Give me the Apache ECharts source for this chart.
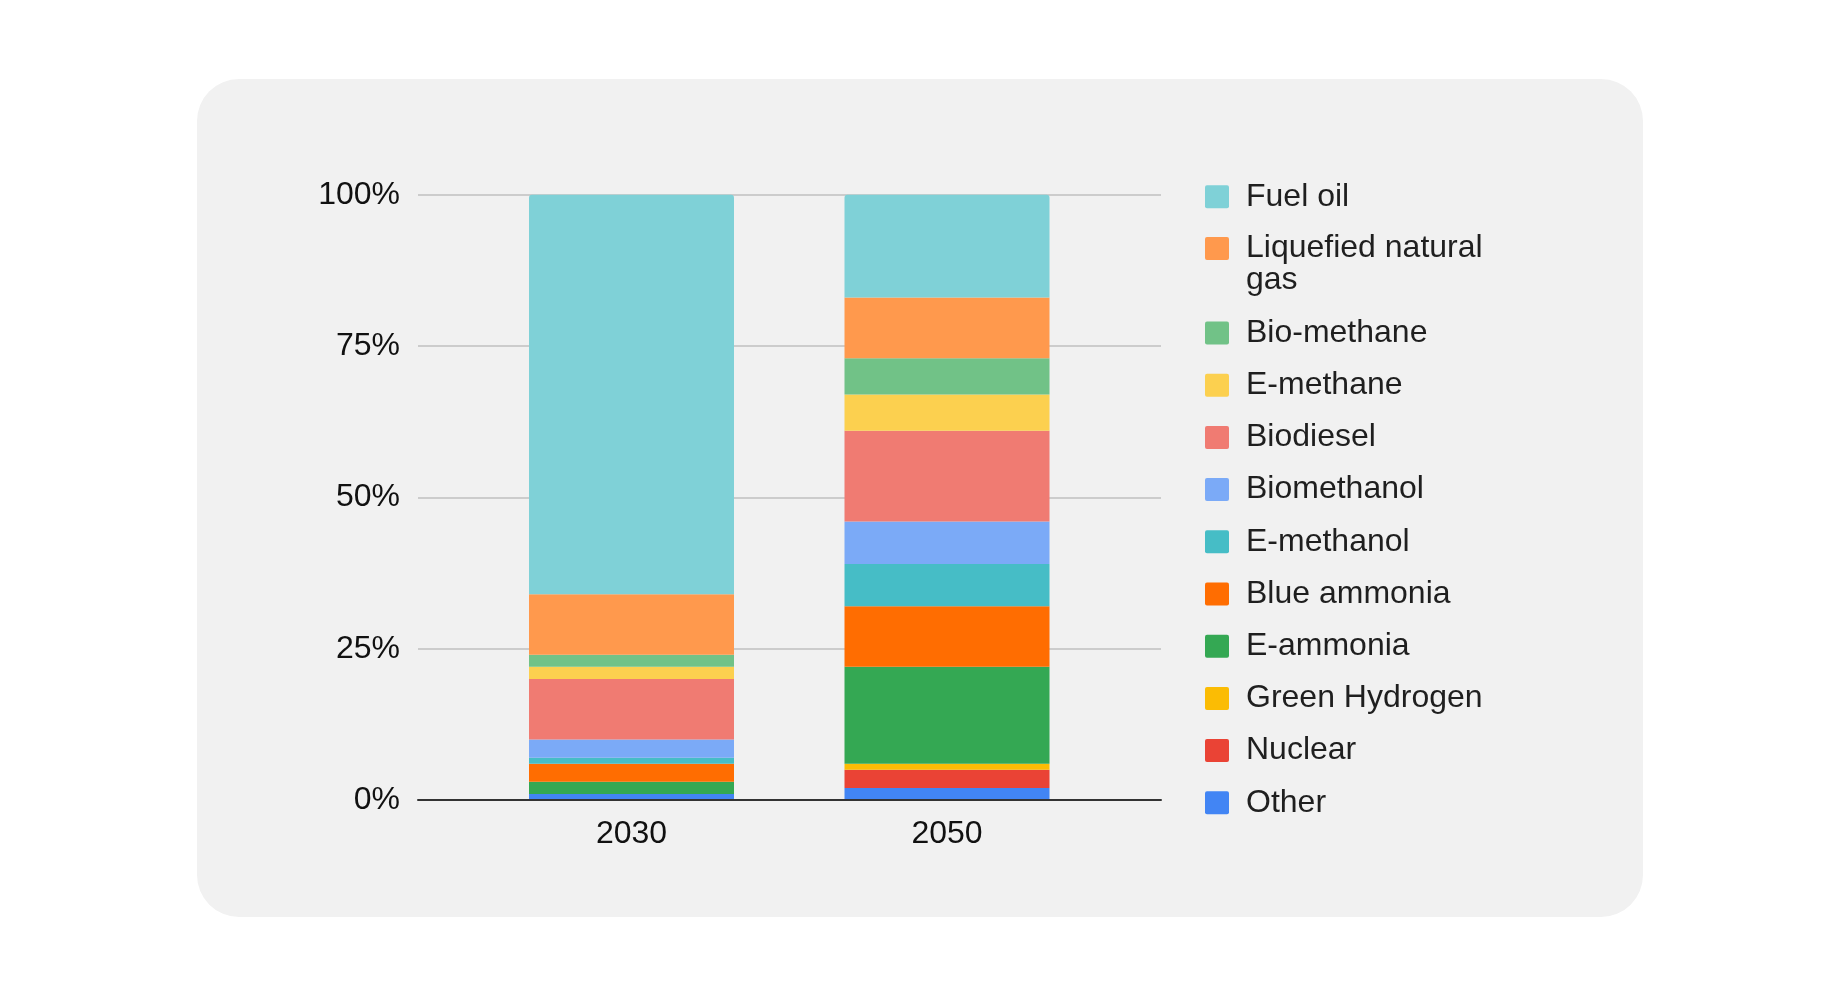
<!DOCTYPE html>
<html>
<head>
<meta charset="utf-8">
<script src="https://cdn.jsdelivr.net/npm/echarts@6/dist/echarts.min.js"></script>
<style>
  html, body { margin: 0; padding: 0; background: #ffffff; }
  #panel { position: absolute; left: 197px; top: 79px; width: 1446px; height: 838px; border-radius: 42px; background: #f1f1f1; }
  #chart { position: absolute; left: 0; top: 0; width: 1840px; height: 996px; }
</style>
</head>
<body>
<div id="panel"></div>
<div id="chart"></div>
<script>
// ---- data (share of fuel mix, %) ----
const categories = ['2030', '2050'];
const fuelOil       = [66, 17];
const lng           = [10, 10];
const bioMethane    = [2, 6];
const eMethane      = [2, 6];
const biodiesel     = [10, 15];
const biomethanol   = [3, 7];
const eMethanol     = [1, 7];
const blueAmmonia   = [3, 10];
const eAmmonia      = [2, 16];
const greenHydrogen = [0, 1];
const nuclear       = [0, 3];
const other         = [1, 2];
const yTicks = [0, 25, 50, 75, 100];

// legend order (top to bottom)
const seriesNames = ['Fuel oil', 'Liquefied natural gas', 'Bio-methane', 'E-methane', 'Biodiesel',
  'Biomethanol', 'E-methanol', 'Blue ammonia', 'E-ammonia', 'Green Hydrogen', 'Nuclear', 'Other'];
const seriesValues = [fuelOil, lng, bioMethane, eMethane, biodiesel, biomethanol, eMethanol,
  blueAmmonia, eAmmonia, greenHydrogen, nuclear, other];
const seriesColors = ['#7fd1d7', '#ff994d', '#71c287', '#fcd04f', '#f07b72', '#7baaf7', '#46bdc6',
  '#ff6d01', '#34a853', '#fbbc04', '#ea4335', '#4285f4'];

const FONT = 'Liberation Sans, Arial, Helvetica, sans-serif';
const GRID_TOP = 194.7, GRID_BOTTOM = 196;

const chart = echarts.init(document.getElementById('chart'), null, { renderer: 'canvas' });

// stack from bottom: Other first ... Fuel oil last
const series = [];
for (let i = seriesNames.length - 1; i >= 0; i--) {
  series.push({
    name: seriesNames[i],
    type: 'bar',
    stack: 'total',
    xAxisIndex: 1,
    yAxisIndex: 1,
    barWidth: 205,
    data: seriesValues[i],
    itemStyle: {
      color: seriesColors[i],
      borderRadius: i === 0 ? [3, 3, 0, 0] : 0
    },
    emphasis: { disabled: true }
  });
}

const iconPath = 'path://M2,0h20a2,2 0 0 1 2,2v19a2,2 0 0 1 -2,2h-20a2,2 0 0 1 -2,-2v-19a2,2 0 0 1 2,-2z';
// same square, but sitting at the top of a taller (55px) box so it lines up with the first text line
const iconPathTop = iconPath + 'M0,55L24,55';
const legendBase = {
  orient: 'vertical',
  left: 1205,
  padding: 0,
  itemWidth: 24,
  itemHeight: 23,
  itemGap: 20.2,
  selectedMode: false,
  icon: iconPath,
  textStyle: { fontSize: 32, color: '#1f1f1f', lineHeight: 32, padding: [0, 0, 0, 12], fontFamily: FONT }
};

chart.setOption({
  animation: false,
  backgroundColor: 'transparent',
  textStyle: { fontFamily: FONT },
  grid: [
    { left: 418, right: 679, top: GRID_TOP, bottom: GRID_BOTTOM },
    { left: 473.75, right: 735.25, top: GRID_TOP, bottom: GRID_BOTTOM }
  ],
  xAxis: [
    {
      gridIndex: 0, type: 'value', min: 0, max: 1, z: 5,
      axisLine: { show: true, lineStyle: { color: '#333333', width: 2 } },
      axisTick: { show: false }, axisLabel: { show: false }, splitLine: { show: false }
    },
    {
      gridIndex: 1, type: 'category', data: categories,
      axisLine: { show: false }, axisTick: { show: false },
      axisLabel: { fontSize: 32, color: '#111111', margin: 18, fontFamily: FONT }
    }
  ],
  yAxis: [
    {
      gridIndex: 0, type: 'value', min: yTicks[0], max: yTicks[yTicks.length - 1], interval: 25,
      axisLine: { show: false }, axisTick: { show: false },
      axisLabel: { formatter: '{value}%', fontSize: 32, color: '#111111', margin: 18, fontFamily: FONT },
      splitLine: { show: true, lineStyle: { color: '#cccccc', width: 2 } }
    },
    {
      gridIndex: 1, type: 'value', min: 0, max: 100, show: false, splitLine: { show: false }
    }
  ],
  legend: [
    Object.assign({}, legendBase, { top: 180.7, data: [seriesNames[0]] }),
    Object.assign({}, legendBase, {
      top: 232.5,
      itemHeight: 55,
      icon: iconPathTop,
      data: [seriesNames[1]],
      formatter: function (name) { return 'Liquefied natural\ngas'; }
    }),
    Object.assign({}, legendBase, { top: 317, data: seriesNames.slice(2) })
  ],
  series: series
});
</script>
</body>
</html>
